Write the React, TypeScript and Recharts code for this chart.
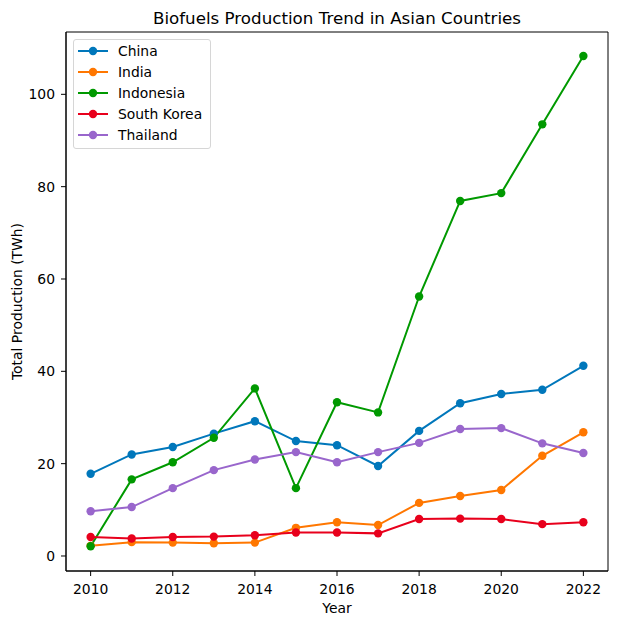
import React from "react";
import {
  LineChart,
  Line,
  XAxis,
  YAxis,
  Legend,
  ReferenceArea,
} from "recharts";

const years = [2010, 2011, 2012, 2013, 2014, 2015, 2016, 2017, 2018, 2019, 2020, 2021, 2022];

const china = [17.8, 22.0, 23.6, 26.5, 29.2, 24.9, 24.0, 19.5, 27.1, 33.1, 35.1, 36.0, 41.2];
const india = [2.2, 3.0, 2.9, 2.75, 2.9, 6.1, 7.3, 6.7, 11.5, 13.0, 14.3, 21.7, 26.8];
const indonesia = [2.1, 16.6, 20.3, 25.6, 36.3, 14.7, 33.3, 31.1, 56.2, 76.9, 78.6, 93.5, 108.3];
const southKorea = [4.1, 3.8, 4.1, 4.2, 4.5, 5.1, 5.1, 4.9, 8.0, 8.1, 8.0, 6.9, 7.3];
const thailand = [9.7, 10.6, 14.7, 18.6, 20.9, 22.5, 20.3, 22.5, 24.5, 27.5, 27.7, 24.4, 22.3];

const seriesNames = ["China", "India", "Indonesia", "South Korea", "Thailand"];
const seriesValues = [china, india, indonesia, southKorea, thailand];
const seriesColors = ["#0077BB", "#FF7700", "#009900", "#E8001C", "#9966CC"];

const xTicks = [2010, 2012, 2014, 2016, 2018, 2020, 2022];
const yTicks = [0, 20, 40, 60, 80, 100];

const xDomain = [2009.4, 2022.6];
const yDomain = [-3.25, 113.5];

const data = years.map((year, i) => {
  const row: Record<string, number> = { year };
  seriesNames.forEach((name, s) => {
    row[name] = seriesValues[s][i];
  });
  return row;
});

const FONT = "'DejaVu Sans', sans-serif";
const tickStyle = { fontSize: 13.9, fill: "#000", fontFamily: FONT };

function LegendBox() {
  return (
    <div
      style={{
        border: "1px solid #d6d6d6",
        borderRadius: 3,
        background: "rgba(255,255,255,0.8)",
        padding: "1px 8px 3px 4px",
        fontFamily: FONT,
        fontSize: 13.9,
        color: "#000",
      }}
    >
      {seriesNames.map((name, i) => (
        <div key={name} style={{ display: "flex", alignItems: "center", height: 20.8 }}>
          <svg width={30} height={10} style={{ marginRight: 10 }}>
            <line x1={0} y1={5} x2={30} y2={5} stroke={seriesColors[i]} strokeWidth={2} />
            <circle cx={15} cy={5} r={4.2} fill={seriesColors[i]} />
          </svg>
          <span>{name}</span>
        </div>
      ))}
    </div>
  );
}

export default function App() {
  return (
    <div style={{ position: "absolute", left: 0, top: 0, width: 618, height: 624, background: "#fff" }}>
      <div
        style={{
          position: "absolute",
          left: 66,
          width: 542,
          top: 8,
          textAlign: "center",
          fontFamily: FONT,
          fontSize: 16.7,
          color: "#000",
        }}
      >
        Biofuels Production Trend in Asian Countries
      </div>
      <LineChart
        width={618}
        height={624}
        data={data}
        margin={{ top: 32, right: 10, bottom: 13, left: 10 }}
      >
        <XAxis
          dataKey="year"
          type="number"
          domain={xDomain}
          ticks={xTicks}
          allowDataOverflow
          height={40}
          tick={tickStyle}
          tickSize={5}
          tickMargin={8}
          tickLine={{ stroke: "#000" }}
          axisLine={{ stroke: "#000", strokeWidth: 1 }}
          label={{ value: "Year", position: "insideBottom", offset: -2, style: { fontSize: 13.9, fill: "#000", fontFamily: FONT } }}
        />
        <YAxis
          type="number"
          domain={yDomain}
          ticks={yTicks}
          allowDataOverflow
          width={56}
          tick={tickStyle}
          tickSize={5}
          tickMargin={6}
          tickLine={{ stroke: "#000" }}
          axisLine={{ stroke: "#000", strokeWidth: 1 }}
          label={{
            value: "Total Production (TWh)",
            angle: -90,
            position: "insideLeft",
            offset: 7,
            style: { fontSize: 13.9, fill: "#000", fontFamily: FONT, textAnchor: "middle" },
          }}
        />
        <ReferenceArea
          x1={xDomain[0]}
          x2={xDomain[1]}
          y1={yDomain[0]}
          y2={yDomain[1]}
          fill="none"
          fillOpacity={0}
          stroke="#000"
          strokeWidth={1}
          ifOverflow="visible"
        />
        <Legend
          layout="vertical"
          align="center"
          verticalAlign="middle"
          wrapperStyle={{ position: "absolute", left: 73, top: 39, width: "auto" }}
          content={() => <LegendBox />}
        />
        {seriesNames.map((name, i) => (
          <Line
            key={name}
            dataKey={name}
            type="linear"
            stroke={seriesColors[i]}
            strokeWidth={2}
            dot={{ r: 4.2, fill: seriesColors[i], stroke: seriesColors[i], strokeWidth: 0 }}
            activeDot={false}
            isAnimationActive={false}
          />
        ))}
      </LineChart>
    </div>
  );
}
